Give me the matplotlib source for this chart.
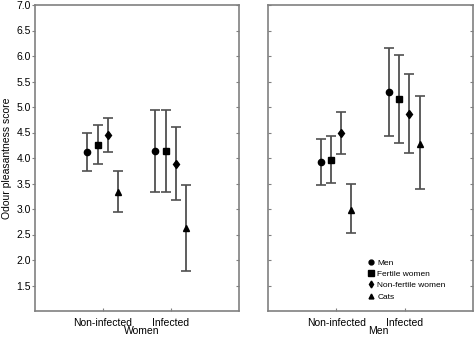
import matplotlib
matplotlib.use("Agg")
import matplotlib.pyplot as plt
from matplotlib.lines import Line2D
import numpy as np

plt.rcParams['font.family'] = ['Liberation Sans', 'DejaVu Sans']

groups = ["Non-infected", "Infected"]
series = ["Men", "Fertile women", "Non-fertile women", "Cats"]
markers = ["o", "s", "d", "^"]
msizes = [4.5, 5, 4.5, 4.5]

# Women panel: [non-infected, infected]
women_mean = {
    "Men": [4.11, 4.14],
    "Fertile women": [4.25, 4.14],
    "Non-fertile women": [4.45, 3.89],
    "Cats": [3.33, 2.62],
}
women_upper = {
    "Men": [4.50, 4.95],
    "Fertile women": [4.64, 4.95],
    "Non-fertile women": [4.79, 4.61],
    "Cats": [3.75, 3.48],
}
women_lower = {
    "Men": [3.74, 3.33],
    "Fertile women": [3.88, 3.33],
    "Non-fertile women": [4.12, 3.17],
    "Cats": [2.94, 1.78],
}
# Men panel
men_mean = {
    "Men": [3.93, 5.30],
    "Fertile women": [3.97, 5.15],
    "Non-fertile women": [4.50, 4.87],
    "Cats": [2.99, 4.28],
}
men_upper = {
    "Men": [4.38, 6.16],
    "Fertile women": [4.43, 6.02],
    "Non-fertile women": [4.90, 5.64],
    "Cats": [3.49, 5.21],
}
men_lower = {
    "Men": [3.47, 4.44],
    "Fertile women": [3.51, 4.29],
    "Non-fertile women": [4.08, 4.10],
    "Cats": [2.53, 3.39],
}

offsets = [-0.23, -0.08, 0.07, 0.22]
yticks = [1.5, 2.0, 2.5, 3.0, 3.5, 4.0, 4.5, 5.0, 5.5, 6.0, 6.5, 7.0]

W, H = 474, 338
fig = plt.figure(figsize=(W / 100, H / 100), dpi=100)
ax1 = fig.add_axes([35 / W, 1 - 311 / H, 204 / W, 306 / H])
ax2 = fig.add_axes([268 / W, 1 - 311 / H, 205 / W, 306 / H])

spine_c = "#808080"
err_c = "#505050"

def draw(ax, mean, upper, lower, xlabel, labelx_px):
    x = np.arange(1, len(groups) + 1)
    for i, s in enumerate(series):
        m = np.array(mean[s]); u = np.array(upper[s]); l = np.array(lower[s])
        ax.errorbar(x + offsets[i], m, yerr=[m - l, u - m], fmt=markers[i],
                    color="black", ecolor=err_c, elinewidth=1.3, capsize=3.5,
                    capthick=1.2, markersize=msizes[i])
    ax.set_xlim(0, 3)
    ax.set_ylim(1.0, 7.0)
    ax.set_xticks(x)
    ax.set_xticklabels(groups, fontsize=7.5)
    ax.set_yticks(yticks)
    for sp in ax.spines.values():
        sp.set_color(spine_c)
        sp.set_linewidth(1.2)
    ax.tick_params(axis='x', direction='in', length=2, color=spine_c, pad=5)
    fig.text(labelx_px / W, 2 / H, xlabel, fontsize=7.5, ha='center', va='bottom')

draw(ax1, women_mean, women_upper, women_lower, "Women", 142)
draw(ax2, men_mean, men_upper, men_lower, "Men", 378)

ax1.set_yticklabels([f"{v:.1f}" for v in yticks], fontsize=7.5)
ax1.tick_params(axis='y', direction='out', length=2, color=spine_c, pad=1,
                right=True, labelright=False)
ax1.set_ylabel("Odour pleasantness score", fontsize=7.5, labelpad=3)

ax2.tick_params(axis='y', direction='in', length=2, color=spine_c,
                left=True, right=True, labelleft=False)
for t in ax1.yaxis.get_major_ticks():
    t.tick2line.set_marker(matplotlib.lines.TICKLEFT)

handles = [Line2D([], [], linestyle='none', marker=markers[i], color='black',
                  markersize=msizes[i] - 1) for i in range(len(series))]
ax2.legend(handles, series, loc="lower left", bbox_to_anchor=(0.46, 0.015),
           frameon=False, fontsize=6, handletextpad=0.3, labelspacing=0.4,
           handlelength=0.8, borderpad=0.2)

fig.savefig("out.png", dpi=100)
